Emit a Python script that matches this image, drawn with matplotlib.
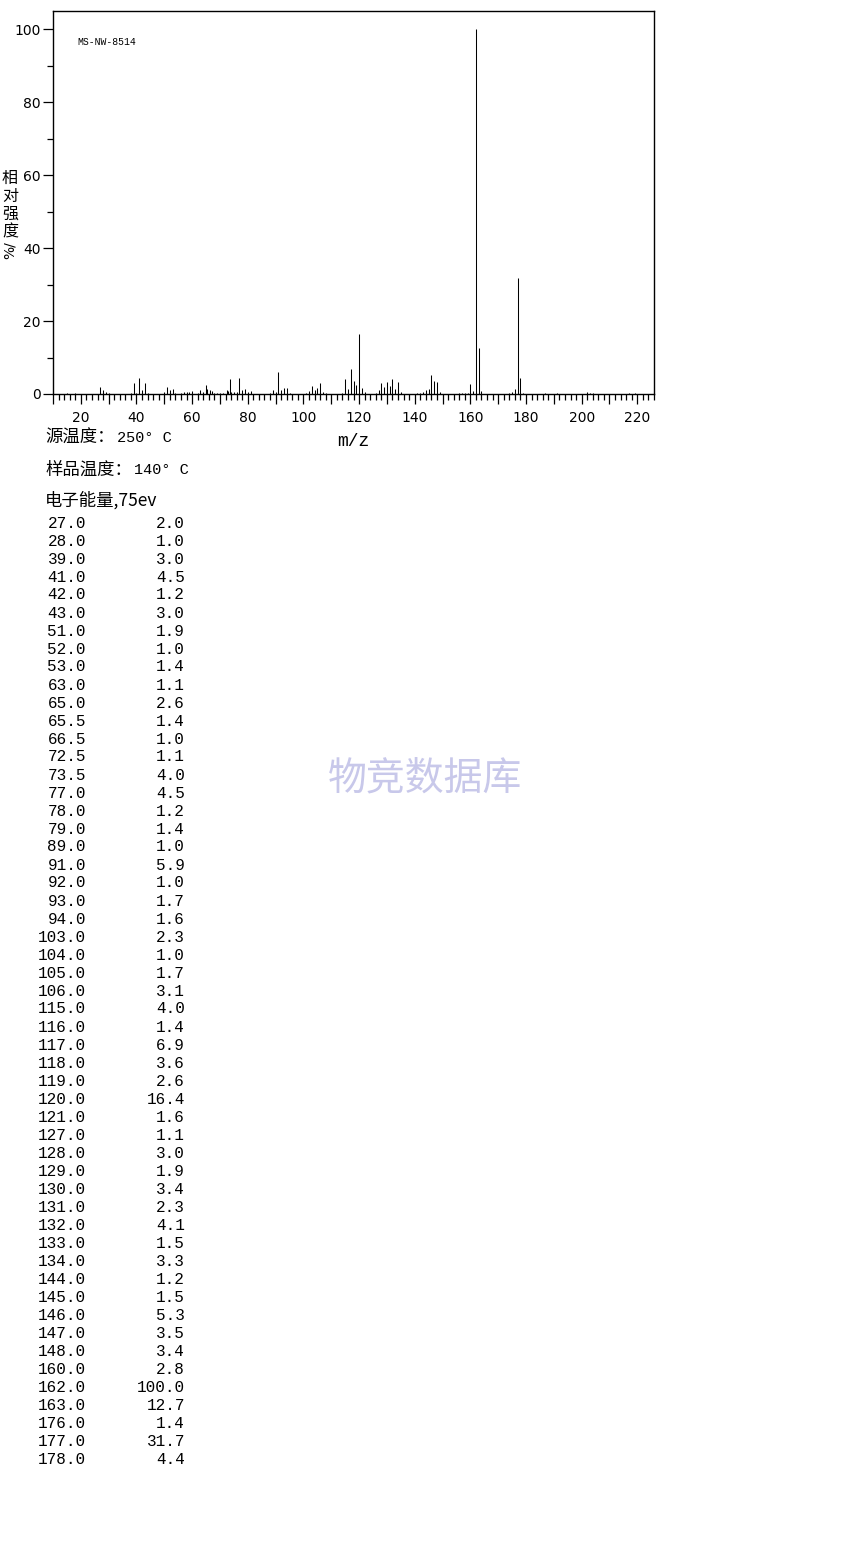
import matplotlib
matplotlib.use("Agg")
import matplotlib.pyplot as plt
from matplotlib.ticker import MultipleLocator

W, H = 850, 1559

# peak list (m/z, relative intensity %) as printed under the spectrum
mz = [27.0, 28.0, 39.0, 41.0, 42.0, 43.0, 51.0, 52.0, 53.0, 63.0, 65.0, 65.5,
      66.5, 72.5, 73.5, 77.0, 78.0, 79.0, 89.0, 91.0, 92.0, 93.0, 94.0, 103.0,
      104.0, 105.0, 106.0, 115.0, 116.0, 117.0, 118.0, 119.0, 120.0, 121.0,
      127.0, 128.0, 129.0, 130.0, 131.0, 132.0, 133.0, 134.0, 144.0, 145.0,
      146.0, 147.0, 148.0, 160.0, 162.0, 163.0, 176.0, 177.0, 178.0]
inten = [2.0, 1.0, 3.0, 4.5, 1.2, 3.0, 1.9, 1.0, 1.4, 1.1, 2.6, 1.4,
         1.0, 1.1, 4.0, 4.5, 1.2, 1.4, 1.0, 5.9, 1.0, 1.7, 1.6, 2.3,
         1.0, 1.7, 3.1, 4.0, 1.4, 6.9, 3.6, 2.6, 16.4, 1.6,
         1.1, 3.0, 1.9, 3.4, 2.3, 4.1, 1.5, 3.3, 1.2, 1.5,
         5.3, 3.5, 3.4, 2.8, 100.0, 12.7, 1.4, 31.7, 4.4]

# small peaks drawn in the spectrum but not listed
mz_minor = [15, 18, 29, 30, 38, 40, 44, 50, 54, 56, 57, 58, 59, 60, 62, 64,
            67, 68, 69, 70, 71, 73, 74, 75, 76, 80, 81, 88, 90, 95, 101, 102,
            107, 108, 114, 122, 126, 135, 141, 142, 143, 149, 156, 157, 158,
            159, 161, 164, 174, 175, 179, 187, 191, 202, 203, 204, 217, 219]
int_minor = [0.3, 0.3, 0.5, 0.4, 0.4, 0.4, 0.4, 0.5, 0.35, 0.35, 0.45, 0.45,
             0.5, 0.7, 0.35, 0.55, 0.8, 0.3, 0.3, 0.3, 0.3, 0.9, 0.45, 0.45,
             0.45, 0.45, 0.7, 0.35, 0.45, 0.3, 0.35, 0.7, 0.45, 0.3, 0.3,
             0.45, 0.35, 0.55, 0.3, 0.3, 0.55, 0.55, 0.35, 0.35, 0.35, 0.35,
             0.7, 0.7, 0.35, 0.45, 0.3, 0.3, 0.3, 0.55, 0.3, 0.3, 0.3, 0.35]

fig = plt.figure(figsize=(W / 100, H / 100), dpi=100)
ax = fig.add_axes([53 / W, 1 - 394 / H, (654 - 53) / W, (394 - 11) / H])

ax.vlines(mz_minor, 0, int_minor, color="black", lw=0.75)
ax.vlines(mz, 0, inten, color="black", lw=0.75)

ax.set_xlim(10, 226)
ax.set_ylim(0, 105)

ax.xaxis.set_minor_locator(MultipleLocator(2))
ax.yaxis.set_major_locator(MultipleLocator(20))
ax.yaxis.set_minor_locator(MultipleLocator(10))
ax.set_xticks(range(10, 227, 10))
ax.set_xticklabels([str(v) if v % 20 == 0 else "" for v in range(10, 227, 10)])

ax.tick_params(axis="x", which="major", length=7, width=0.9, direction="out",
               labelsize=10, pad=5)
ax.tick_params(axis="x", which="minor", length=4.3, width=0.9, direction="out")
ax.tick_params(axis="y", which="major", length=7, width=0.9, direction="out",
               labelsize=10, pad=2)
ax.tick_params(axis="y", which="minor", length=4, width=0.9, direction="out")
for s in ax.spines.values():
    s.set_linewidth(1.0)

ax.text((77 - 53) / 601, 1 - (42 - 11) / 383, "MS-NW-8514",
        transform=ax.transAxes, family="Liberation Mono", fontsize=7,
        va="center", ha="left")


def ftxt(x, y, s, **kw):
    fig.text(x / W, 1 - y / H, s, **kw)


ftxt(353, 442, "m/z", family="Liberation Mono", fontsize=13,
     ha="center", va="center")

# vertical y label
for i, ch in enumerate("相对强度"):
    ftxt(10, 178 + i * 18, ch, family="Noto Sans CJK SC", fontsize=11.5,
         ha="center", va="center")
ftxt(10, 250, "%/", fontsize=10, rotation=90, ha="center", va="center")

cjk = "Noto Sans CJK SC"
mono = "Liberation Mono"
ftxt(45, 438, "源温度：", family=cjk, fontsize=12.5, va="center")
ftxt(117, 438, "250° C", family=mono, fontsize=11, va="center")
ftxt(45, 470, "样品温度：", family=cjk, fontsize=12.5, va="center")
ftxt(134, 470, "140° C", family=mono, fontsize=11, va="center")
ftxt(45, 500, "电子能量,75ev", family=cjk, fontsize=12.5, va="center")

for i, (m, v) in enumerate(zip(mz, inten)):
    y = 523 + 18 * i
    ftxt(86, y, f"{m:.1f}", family=mono, fontsize=11.5, ha="right", va="center")
    ftxt(185, y, f"{v:.1f}", family=mono, fontsize=11.5, ha="right", va="center")

ftxt(425, 780, "物竞数据库", family=cjk, fontsize=28, color="#c8c8ea",
     ha="center", va="center")

fig.savefig("out.png", dpi=100)
